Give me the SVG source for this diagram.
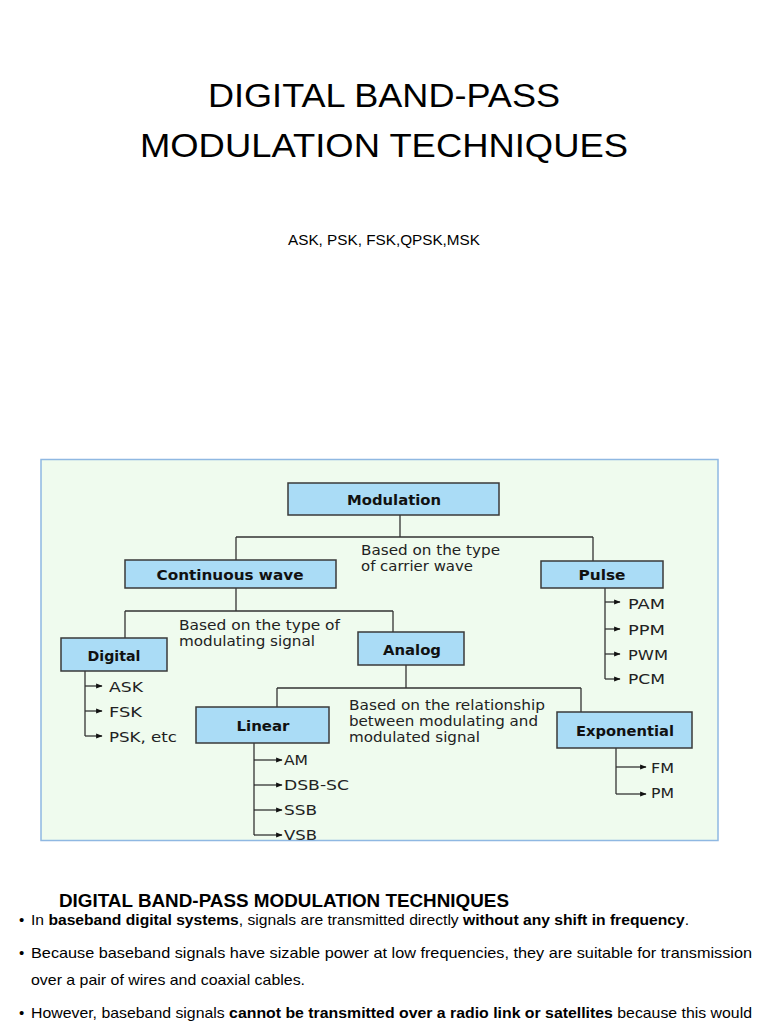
<svg xmlns="http://www.w3.org/2000/svg" width="768" height="1024" viewBox="0 0 768 1024">
<defs>
<style>
.t{font-family:"Liberation Sans","Noto Sans",sans-serif;fill:#000}
.nd rect{fill:#aadcf6;stroke:#3a3a3a;stroke-width:1.5}
.nl{font-family:"DejaVu Sans","Liberation Sans",sans-serif;font-weight:bold;font-size:13.5px;fill:#111;text-anchor:middle}
.lb{font-family:"DejaVu Sans","Liberation Sans",sans-serif;font-size:14px;fill:#222}
.ln{fill:none;stroke:#333;stroke-width:1.3}
.ar{fill:none;stroke:#333;stroke-width:1.3;marker-end:url(#ah)}
.b{font-weight:bold}
</style>
<marker id="ah" viewBox="0 0 10 10" refX="9" refY="5" markerWidth="5" markerHeight="5" orient="auto"><path d="M0,1 L10,5 L0,9 z" fill="#111"/></marker>
</defs>
<rect width="768" height="1024" fill="#fff"/>
<text class="t" x="384" y="107" font-size="34" text-anchor="middle" textLength="352" lengthAdjust="spacingAndGlyphs">DIGITAL BAND-PASS</text>
<text class="t" x="384" y="157" font-size="34" text-anchor="middle" textLength="488" lengthAdjust="spacingAndGlyphs">MODULATION TECHNIQUES</text>
<text class="t" x="384" y="245" font-size="15" text-anchor="middle" textLength="192" lengthAdjust="spacingAndGlyphs">ASK, PSK, FSK,QPSK,MSK</text>
<rect x="41" y="459.5" width="677" height="381" fill="#effbee" stroke="#8fb8e2" stroke-width="1.5"/>
<g id="connectors">
<path class="ln" d="M400,515 V537 M236,537 H593 M236,537 V560 M593,537 V561"/>
<path class="ln" d="M236,588 V611 M125,611 H393 M125,611 V638 M393,611 V632"/>
<path class="ln" d="M406,665 V688 M277,688 H581 M277,688 V707 M581,688 V712"/>
<path class="ln" d="M85,671 V736"/>
<path class="ar" d="M85,686 H102"/><path class="ar" d="M85,711 H102"/><path class="ar" d="M85,736 H102"/>
<path class="ln" d="M605,588 V679"/>
<path class="ar" d="M605,602 H620"/><path class="ar" d="M605,629 H620"/><path class="ar" d="M605,654 H620"/><path class="ar" d="M605,679 H620"/>
<path class="ln" d="M254,743 V835"/>
<path class="ar" d="M254,760 H282"/><path class="ar" d="M254,785 H282"/><path class="ar" d="M254,810 H282"/><path class="ar" d="M254,835 H282"/>
<path class="ln" d="M616,748 V794"/>
<path class="ar" d="M616,767 H646"/><path class="ar" d="M616,794 H646"/>
</g>
<g id="modulation" class="nd"><rect x="288" y="483" width="211" height="32"/><text class="nl" x="394" y="505" textLength="94" lengthAdjust="spacingAndGlyphs">Modulation</text></g>
<g id="continuous" class="nd"><rect x="125" y="560" width="211" height="28"/><text class="nl" x="230" y="580" textLength="147" lengthAdjust="spacingAndGlyphs">Continuous wave</text></g>
<g id="pulse" class="nd"><rect x="541" y="561" width="122" height="27"/><text class="nl" x="602" y="580" textLength="47" lengthAdjust="spacingAndGlyphs">Pulse</text></g>
<g id="digital" class="nd"><rect x="61" y="638" width="106" height="33"/><text class="nl" x="114" y="661" textLength="53" lengthAdjust="spacingAndGlyphs">Digital</text></g>
<g id="analog" class="nd"><rect x="358" y="632" width="106" height="33"/><text class="nl" x="412" y="655" textLength="58" lengthAdjust="spacingAndGlyphs">Analog</text></g>
<g id="linear" class="nd"><rect x="196" y="707" width="133" height="36"/><text class="nl" x="263" y="731" textLength="53" lengthAdjust="spacingAndGlyphs">Linear</text></g>
<g id="exponential" class="nd"><rect x="557" y="712" width="135" height="36"/><text class="nl" x="625" y="736" textLength="98" lengthAdjust="spacingAndGlyphs">Exponential</text></g>
<g id="labels">
<text class="lb" x="361" y="555" textLength="139" lengthAdjust="spacingAndGlyphs">Based on the type</text>
<text class="lb" x="361" y="571" textLength="112" lengthAdjust="spacingAndGlyphs">of carrier wave</text>
<text class="lb" x="179" y="630" textLength="161" lengthAdjust="spacingAndGlyphs">Based on the type of</text>
<text class="lb" x="179" y="646" textLength="136" lengthAdjust="spacingAndGlyphs">modulating signal</text>
<text class="lb" x="349" y="710" textLength="196" lengthAdjust="spacingAndGlyphs">Based on the relationship</text>
<text class="lb" x="349" y="726" textLength="189" lengthAdjust="spacingAndGlyphs">between modulating and</text>
<text class="lb" x="349" y="742" textLength="131" lengthAdjust="spacingAndGlyphs">modulated signal</text>
<text class="lb" x="109" y="692" textLength="34" lengthAdjust="spacingAndGlyphs">ASK</text>
<text class="lb" x="109" y="717" textLength="33" lengthAdjust="spacingAndGlyphs">FSK</text>
<text class="lb" x="109" y="742" textLength="68" lengthAdjust="spacingAndGlyphs">PSK, etc</text>
<text class="lb" x="628" y="609" textLength="37" lengthAdjust="spacingAndGlyphs">PAM</text>
<text class="lb" x="628" y="635" textLength="37" lengthAdjust="spacingAndGlyphs">PPM</text>
<text class="lb" x="628" y="660" textLength="40" lengthAdjust="spacingAndGlyphs">PWM</text>
<text class="lb" x="628" y="684" textLength="37" lengthAdjust="spacingAndGlyphs">PCM</text>
<text class="lb" x="284" y="765" textLength="24" lengthAdjust="spacingAndGlyphs">AM</text>
<text class="lb" x="284" y="790" textLength="65" lengthAdjust="spacingAndGlyphs">DSB-SC</text>
<text class="lb" x="284" y="815" textLength="33" lengthAdjust="spacingAndGlyphs">SSB</text>
<text class="lb" x="284" y="840" textLength="33" lengthAdjust="spacingAndGlyphs">VSB</text>
<text class="lb" x="651" y="773" textLength="23" lengthAdjust="spacingAndGlyphs">FM</text>
<text class="lb" x="651" y="798" textLength="23" lengthAdjust="spacingAndGlyphs">PM</text>
</g>
<text class="t b" x="59" y="907" font-size="18" textLength="450" lengthAdjust="spacingAndGlyphs">DIGITAL BAND-PASS MODULATION TECHNIQUES</text>
<g class="t" font-size="15">
<text x="19" y="925">•</text>
<text x="31" y="925" textLength="658" lengthAdjust="spacingAndGlyphs">In <tspan class="b">baseband digital systems</tspan>, signals are transmitted directly <tspan class="b">without any shift in frequency</tspan>.</text>
<text x="19" y="958">•</text>
<text x="31" y="958" textLength="721" lengthAdjust="spacingAndGlyphs">Because baseband signals have sizable power at low frequencies, they are suitable for transmission</text>
<text x="31" y="985" textLength="274" lengthAdjust="spacingAndGlyphs">over a pair of wires and coaxial cables.</text>
<text x="19" y="1018">•</text>
<text x="31" y="1018" textLength="721" lengthAdjust="spacingAndGlyphs">However, baseband signals <tspan class="b">cannot be transmitted over a radio link or satellites</tspan> because this would</text>
</g>
</svg>
